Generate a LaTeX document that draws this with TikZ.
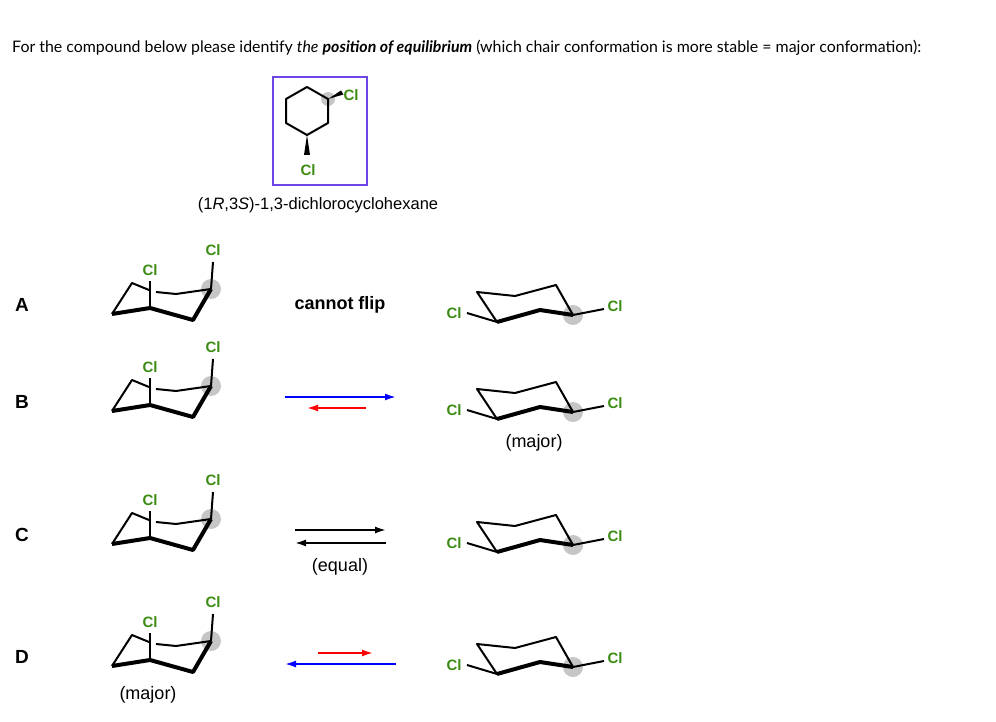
\documentclass[tikz,border=0pt]{standalone}
\usetikzlibrary{arrows.meta}
\usepackage{fontspec}
\setmainfont{Liberation Sans}
\newfontfamily\lato{Lato}
\definecolor{clg}{RGB}{60,140,20}
\definecolor{boxc}{RGB}{110,70,230}
\begin{document}
\begin{tikzpicture}[x=1pt,y=-1pt,
  thin/.style={line width=2pt,line join=round},
  thk/.style={line width=4pt,line join=round},
  cl/.style={text=clg,font=\bfseries\fontsize{15}{16}\selectfont,inner sep=0},
  lab/.style={font=\fontsize{18}{20}\selectfont,inner sep=0},
  let/.style={font=\bfseries\fontsize{19}{21}\selectfont,inner sep=0},
  ar/.style={line width=1.8pt,-{Latex[length=11pt,width=7pt]}}]
\useasboundingbox[fill=white] (0,0) rectangle (996,722);
\node[anchor=west,inner sep=0,font=\lato\fontsize{15.9}{18}\selectfont] (hdr) at (12,48) {For the compound below please identify \textit{the} \textbf{\textit{position of equilibrium}} (which chair conformation is more stable = major conformation):};
% top compound
\draw[boxc,line width=1.4pt] (273,77) rectangle (367,185);
\coordinate (h1) at (328,99);\coordinate (h2) at (328,123);\coordinate (h3) at (307,135);
\coordinate (h4) at (286,123);\coordinate (h5) at (286,99);\coordinate (h6) at (307,87);
\fill[gray!45] (h1) circle (7);
\draw[thin] (h1)--(h2)--(h3)--(h4)--(h5)--(h6)--cycle;
\fill (h1) -- ++(13,-8.5) -- ++(2.5,4) -- cycle;
\fill (h3) -- ++(-3,20) -- ++(6,0) -- cycle;
\node[cl] (tc1) at (351,95) {Cl};
\node[cl] (tc2) at (308,170) {Cl};
\node[lab,font=\fontsize{16.5}{18}\selectfont] (name) at (318,205) {(1\textit{R},3\textit{S})-1,3-dichlorocyclohexane};
% chairs
\foreach \dy/\L in {0/A,97/B,230/C,352/D}{
 \begin{scope}[yshift=-\dy]
 \node[let] at (22,305) {\L};
 \fill[gray!45] (211,289) circle (10);
 \draw[thin] (150,308)--(150,281);
 \draw[thin] (112,314)--(132,283)--(149,290);
 \draw[thin] (156,292)--(176,294)--(211,289);
 \draw[thk] (112,314)--(150,308)--(193,320)--(211,289);
 \draw[thin] (211,289)--(213,262);
 \node[cl] at (150,270) {Cl};
 \node[cl] at (213,250) {Cl};
 \fill[gray!45] (573,315) circle (10);
 \draw[thin] (497,322)--(477,292)--(515,296)--(556,285)--(573,315);
 \draw[thk] (497,322)--(540,310)--(573,315);
 \draw[thin] (497,322)--(467,313);
 \draw[thin] (573,315)--(604,309);
 \node[cl] at (454,313) {Cl};
 \node[cl] at (615,306) {Cl};
 \end{scope}}
\node[lab,font=\bfseries\fontsize{18}{20}\selectfont] (cf) at (340,305) {cannot flip};
\node[lab] (m1) at (534,443) {(major)};
\node[lab] (m2) at (148,695) {(major)};
\node[lab] (eq) at (340,567) {(equal)};
\coordinate (b1) at (285,397);\coordinate (b2) at (396,397);
\coordinate (b3) at (366,408);\coordinate (b4) at (307,408);
\draw[ar,blue] (b1)--(b2);\draw[ar,red] (b3)--(b4);
\coordinate (c1) at (295,530);\coordinate (c2) at (386,530);
\coordinate (c3) at (386,543);\coordinate (c4) at (295,543);
\draw[ar] (c1)--(c2);\draw[ar] (c3)--(c4);
\coordinate (d1) at (318,653);\coordinate (d2) at (373,653);
\coordinate (d3) at (396,664);\coordinate (d4) at (285,664);
\draw[ar,red] (d1)--(d2);\draw[ar,blue] (d3)--(d4);
\end{tikzpicture}
\end{document}
